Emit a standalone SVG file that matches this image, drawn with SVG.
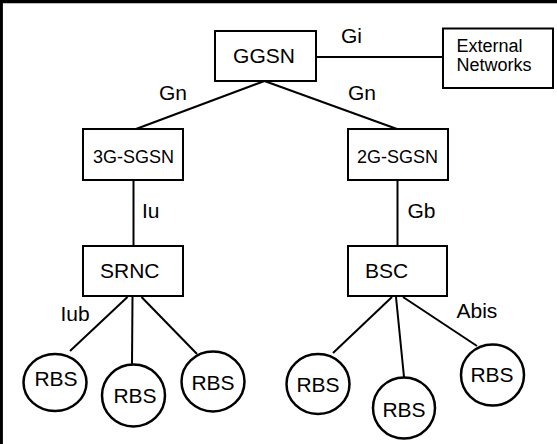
<svg xmlns="http://www.w3.org/2000/svg" width="557" height="444" viewBox="0 0 557 444">
<style>
  .box { fill: #fff; stroke: #000; stroke-width: 2; }
  .rbs { fill: #fff; stroke: #000; stroke-width: 2.5; }
  .lbl { font-family: "Liberation Sans", Arial, sans-serif; font-size: 21px; fill: #000; }
  .sm { font-size: 18px; }
  .ln { stroke: #000; stroke-width: 2; fill: none; }
</style>
<rect width="557" height="444" fill="#fff"/>
<g id="frame">
  <line x1="0" y1="1.6" x2="557" y2="1.6" stroke="#000" stroke-width="3.3"/>
  <line x1="1.4" y1="0" x2="1.4" y2="444" stroke="#000" stroke-width="3"/>
</g>
<g id="connectors">
  <line class="ln" x1="316" y1="57" x2="443" y2="57"/>
  <line class="ln" x1="264.5" y1="81" x2="136" y2="129"/>
  <line class="ln" x1="264.5" y1="81" x2="397" y2="129"/>
  <line class="ln" x1="133.5" y1="180" x2="133.5" y2="246"/>
  <line class="ln" x1="397.5" y1="180" x2="397.5" y2="246"/>
  <line class="ln" x1="127.5" y1="297" x2="70" y2="351"/>
  <line class="ln" x1="132.5" y1="297" x2="132" y2="364"/>
  <line class="ln" x1="141.5" y1="297" x2="197" y2="354"/>
  <line class="ln" x1="392" y1="297" x2="333" y2="353"/>
  <line class="ln" x1="396" y1="297" x2="404" y2="377"/>
  <line class="ln" x1="403" y1="297" x2="477" y2="346"/>
  <text class="lbl" x="341" y="43" font-size="20">Gi</text>
  <text class="lbl" x="159" y="100" font-size="20">Gn</text>
  <text class="lbl" x="348" y="100" font-size="20">Gn</text>
  <text class="lbl" x="142" y="218" font-size="20">Iu</text>
  <text class="lbl" x="407.5" y="218" font-size="20">Gb</text>
  <text class="lbl" x="60.5" y="320.5" font-size="20">Iub</text>
  <text class="lbl" x="456.5" y="318" font-size="20">Abis</text>
</g>
<g id="ggsn">
  <rect class="box" x="215" y="31" width="101" height="50"/>
  <text class="lbl" x="264" y="63" text-anchor="middle">GGSN</text>
</g>
<g id="external">
  <rect class="box" x="443" y="28.5" width="110" height="59.5"/>
  <text class="lbl sm" x="456.5" y="52">External</text>
  <text class="lbl sm" x="456.5" y="71">Networks</text>
</g>
<g id="sgsn3g">
  <rect class="box" x="83" y="129" width="100" height="51"/>
  <text class="lbl sm" x="133.5" y="163" text-anchor="middle">3G-SGSN</text>
</g>
<g id="sgsn2g">
  <rect class="box" x="348" y="129" width="100" height="51"/>
  <text class="lbl sm" x="397.5" y="163" text-anchor="middle">2G-SGSN</text>
</g>
<g id="srnc">
  <rect class="box" x="83" y="246" width="100" height="50"/>
  <text class="lbl" x="100" y="278">SRNC</text>
</g>
<g id="bsc">
  <rect class="box" x="348" y="246" width="99" height="50"/>
  <text class="lbl" x="365" y="278">BSC</text>
</g>
<g id="rbs1">
  <ellipse class="rbs" cx="55" cy="382.5" rx="31.5" ry="28.5"/>
  <text class="lbl" x="56" y="385.5" text-anchor="middle">RBS</text>
</g>
<g id="rbs2">
  <ellipse class="rbs" cx="133.5" cy="395.5" rx="31.5" ry="31"/>
  <text class="lbl" x="135" y="403" text-anchor="middle">RBS</text>
</g>
<g id="rbs3">
  <ellipse class="rbs" cx="213" cy="381.5" rx="31.5" ry="30"/>
  <text class="lbl" x="213" y="390" text-anchor="middle">RBS</text>
</g>
<g id="rbs4">
  <ellipse class="rbs" cx="318" cy="384" rx="31.5" ry="30"/>
  <text class="lbl" x="318" y="392" text-anchor="middle">RBS</text>
</g>
<g id="rbs5">
  <ellipse class="rbs" cx="404" cy="408" rx="31" ry="30.5"/>
  <text class="lbl" x="404" y="417" text-anchor="middle">RBS</text>
</g>
<g id="rbs6">
  <ellipse class="rbs" cx="492.5" cy="375" rx="31.5" ry="30.5"/>
  <text class="lbl" x="492" y="382" text-anchor="middle">RBS</text>
</g>
</svg>
